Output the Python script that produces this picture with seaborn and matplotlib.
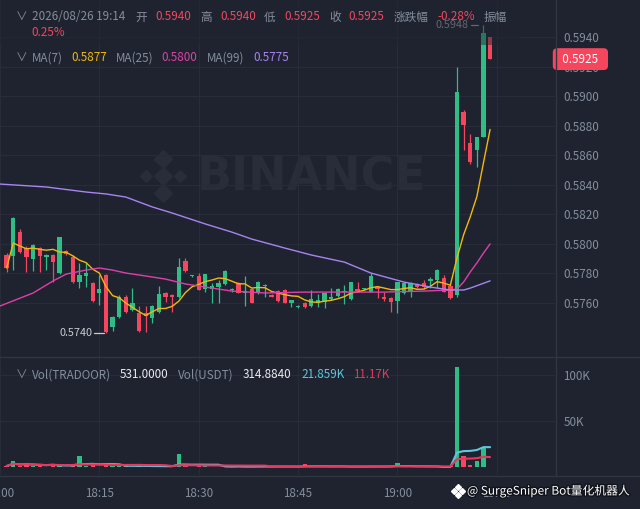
import numpy as np
import pandas as pd
import matplotlib
matplotlib.use('Agg')
import matplotlib.pyplot as plt
import matplotlib.transforms as mtransforms
import matplotlib.patheffects as pe
from matplotlib.patches import Rectangle
from matplotlib.lines import Line2D
import seaborn as sns

# 1-min Kerzen 18:01 - 19:14
times = pd.date_range('2026-08-26 18:01', '2026-08-26 19:14', freq='1min')

opens = [0.57925, 0.57918, 0.58080, 0.57972, 0.57898, 0.57972, 0.57911, 0.57925, 0.57803, 0.57952,
         0.57911, 0.57742, 0.57783, 0.57735, 0.57668, 0.57789, 0.57437, 0.57505, 0.57641, 0.57553,
         0.57532, 0.57532, 0.57498, 0.57539, 0.57668, 0.57654, 0.57641, 0.57884, 0.57783, 0.57783,
         0.57695, 0.57695, 0.57708, 0.57729, 0.57688, 0.57735, 0.57668, 0.57695, 0.57668, 0.57715,
         0.57654, 0.57681, 0.57688, 0.57600, 0.57573, 0.57600, 0.57580, 0.57600, 0.57607, 0.57627,
         0.57647, 0.57674, 0.57627, 0.57695, 0.57695, 0.57674, 0.57708, 0.57641, 0.57634, 0.57613,
         0.57668, 0.57674, 0.57729, 0.57735, 0.57749, 0.57756, 0.57769, 0.57715, 0.57654, 0.58892,
         0.58683, 0.58635, 0.58723, 0.59400]
highs = [0.57938, 0.58180, 0.58101, 0.57985, 0.58000, 0.57980, 0.57930, 0.57932, 0.58046, 0.57960,
         0.57925, 0.57871, 0.57877, 0.57745, 0.57789, 0.57795, 0.57512, 0.57654, 0.57654, 0.57701,
         0.57580, 0.57580, 0.57586, 0.57715, 0.57675, 0.57660, 0.57905, 0.57905, 0.57789, 0.57803,
         0.57796, 0.57735, 0.57756, 0.57823, 0.57701, 0.57745, 0.57783, 0.57701, 0.57749, 0.57729,
         0.57660, 0.57688, 0.57695, 0.57620, 0.57586, 0.57607, 0.57688, 0.57660, 0.57668, 0.57701,
         0.57701, 0.57722, 0.57742, 0.57742, 0.57705, 0.57803, 0.57715, 0.57675, 0.57641, 0.57742,
         0.57742, 0.57742, 0.57735, 0.57756, 0.57776, 0.57830, 0.57789, 0.57730, 0.59200, 0.58905,
         0.58744, 0.58723, 0.59480, 0.59400]
lows = [0.57810, 0.57823, 0.57938, 0.57810, 0.57817, 0.57810, 0.57823, 0.57742, 0.57796, 0.57925,
        0.57735, 0.57701, 0.57708, 0.57607, 0.57586, 0.57400, 0.57410, 0.57498, 0.57532, 0.57546,
        0.57404, 0.57404, 0.57465, 0.57532, 0.57607, 0.57539, 0.57634, 0.57810, 0.57776, 0.57688,
        0.57674, 0.57600, 0.57600, 0.57722, 0.57674, 0.57668, 0.57580, 0.57600, 0.57660, 0.57641,
        0.57641, 0.57607, 0.57600, 0.57573, 0.57566, 0.57566, 0.57573, 0.57573, 0.57566, 0.57620,
        0.57640, 0.57593, 0.57620, 0.57674, 0.57690, 0.57674, 0.57634, 0.57613, 0.57539, 0.57532,
        0.57660, 0.57640, 0.57701, 0.57695, 0.57701, 0.57701, 0.57674, 0.57627, 0.57641, 0.58635,
        0.58540, 0.58520, 0.58723, 0.59250]
closes = [0.57837, 0.58175, 0.57945, 0.57911, 0.57992, 0.57918, 0.57925, 0.57877, 0.58046, 0.57932,
          0.57742, 0.57789, 0.57803, 0.57613, 0.57695, 0.57404, 0.57505, 0.57641, 0.57539, 0.57600,
          0.57410, 0.57512, 0.57580, 0.57661, 0.57641, 0.57641, 0.57844, 0.57817, 0.57789, 0.57688,
          0.57796, 0.57715, 0.57735, 0.57817, 0.57695, 0.57668, 0.57681, 0.57600, 0.57742, 0.57722,
          0.57641, 0.57613, 0.57600, 0.57620, 0.57580, 0.57573, 0.57627, 0.57620, 0.57668, 0.57641,
          0.57695, 0.57681, 0.57742, 0.57681, 0.57701, 0.57783, 0.57695, 0.57627, 0.57607, 0.57742,
          0.57735, 0.57735, 0.57708, 0.57708, 0.57762, 0.57823, 0.57674, 0.57634, 0.59028, 0.58804,
          0.58554, 0.58723, 0.59427, 0.59250]
volumes = [1500, 6500, 1800, 4300, 1500, 1200, 900, 4000, 2000, 1000,
           4200, 12000, 1200, 2500, 1000, 3000, 2000, 1500, 1300, 1000,
           2000, 1500, 1200, 1500, 1000, 800, 14000, 1800, 500, 1500,
           1200, 800, 700, 1200, 500, 1500, 600, 1000, 1300, 800,
           600, 1200, 1200, 800, 400, 3300, 1000, 700, 1000, 600,
           900, 500, 1500, 1200, 300, 1800, 800, 700, 1300, 4700,
           500, 400, 400, 500, 250, 800, 500, 1200, 108000, 11900,
           2200, 6800, 22400, 531]

ma25_idx = [-1, 4, 7, 9, 12, 14, 16, 18, 21, 24, 27, 30, 34, 39, 45, 51, 57, 63, 67, 68, 69, 70, 71, 72, 73]
ma25_vals = [0.57580, 0.57668, 0.57749, 0.57796, 0.57823, 0.57837, 0.57823, 0.57803, 0.57783, 0.57762,
             0.57729, 0.57708, 0.57681, 0.57668, 0.57674, 0.57674, 0.57674, 0.57681, 0.57688, 0.57695,
             0.57742, 0.57810, 0.57871, 0.57938, 0.58000]
ma99_idx = [-1, 6, 12, 15, 18, 22, 25, 30, 34, 37, 42, 46, 51, 55, 60, 64, 67, 69, 70, 73]
ma99_vals = [0.58405, 0.58385, 0.58351, 0.58338, 0.58317, 0.58250, 0.58209, 0.58135, 0.58080, 0.58033,
             0.57972, 0.57925, 0.57877, 0.57803, 0.57742, 0.57708, 0.57688, 0.57688, 0.57701, 0.57750]

time_ticks = ['18:00', '18:15', '18:30', '18:45', '19:00', '19:15']
price_ticks = [0.5760, 0.5780, 0.5800, 0.5820, 0.5840, 0.5860, 0.5880, 0.5900, 0.5920, 0.5940]
vol_ticks = [50000, 100000]
vol_tick_labels = ['50K', '100K']

BG = '#1f2330'
GRID = '#272c38'
SEP = '#30353f'
GREY = '#848e9c'
WHITE = '#eaecef'
RED = '#f6465d'
GREEN = '#2ebd85'
YELLOW = '#f0b90b'
PINK = '#e03fa8'
PURPLE = '#a883f2'
CYAN = '#5cc8dc'
VRED = '#e8365d'
MARK = '#282d39'
FS = 8.4
W, H = 640, 509

sns.set_style('dark', {'axes.facecolor': BG, 'figure.facecolor': BG, 'axes.edgecolor': BG,
                       'grid.color': GRID, 'axes.grid': True})
plt.rcParams['font.family'] = ['Noto Sans CJK SC', 'DejaVu Sans']

df = pd.DataFrame({'time': times, 'open': opens, 'high': highs, 'low': lows,
                   'close': closes, 'volume': volumes})
df['pos'] = np.arange(len(df))
df['ma7'] = df['close'].rolling(7, min_periods=1).mean()
df['vma7'] = df['volume'].rolling(7, min_periods=1).mean()
df['vma14'] = df['volume'].rolling(14, min_periods=1).mean()
up = df['close'] >= df['open']
colors = np.where(up, GREEN, RED)

start = pd.Timestamp('2026-08-26 18:01')
tick_pos = [(pd.Timestamp('2026-08-26 ' + t) - start) / pd.Timedelta('1min') for t in time_ticks]


def px(x, y):
    return x / W, 1 - y / H


fig = plt.figure(figsize=(6.4, 5.09), dpi=100, facecolor=BG)
ax = fig.add_axes([0, 152 / H, 555 / W, 357 / H])
axv = fig.add_axes([0, 34 / H, 555 / W, 118 / H], sharex=ax)

# Wasserzeichen
ax.text(*px(312, 178), 'BINANCE', transform=fig.transFigure, fontsize=33, fontweight='bold',
        color=MARK, ha='center', va='center', family='DejaVu Sans', zorder=0)
for dx, dy, ms in [(0, 0, 9), (-17, 0, 6), (17, 0, 6), (0, -17, 9), (0, 17, 9)]:
    ax.plot(*px(163 + dx, 176 + dy), marker='D', ms=ms, color=MARK,
            transform=fig.transFigure, zorder=0)

# Kerzen
ax.vlines(df['pos'], df['low'], df['high'], colors=colors, lw=0.9, zorder=2)
body_lo = np.minimum(df['open'], df['close'])
body_h = np.maximum((df['close'] - df['open']).abs(), 0.00007)
ax.bar(df['pos'], body_h, bottom=body_lo, width=0.65, color=colors, linewidth=0, zorder=3)

sns.lineplot(data=df, x='pos', y='ma7', color=YELLOW, lw=1.0, ax=ax, zorder=4)
sns.lineplot(x=ma25_idx, y=ma25_vals, color=PINK, lw=1.0, ax=ax, zorder=4)
sns.lineplot(x=ma99_idx, y=ma99_vals, color=PURPLE, lw=1.0, ax=ax, zorder=4)

# Volumen
axv.bar(df['pos'], df['volume'], width=0.65, color=colors, linewidth=0, zorder=2)
sns.lineplot(data=df, x='pos', y='vma7', color=CYAN, lw=1.5, ax=axv, zorder=3)
sns.lineplot(data=df, x='pos', y='vma14', color=VRED, lw=1.5, ax=axv, zorder=3)

ax.set_xlim(-0.405, 82.8)
ax.set_ylim(0.57235, 0.59650)
axv.set_ylim(-8150, 119000)

for a in (ax, axv):
    a.set_xlabel('')
    a.set_ylabel('')
    for s in a.spines.values():
        s.set_visible(False)
    a.yaxis.tick_right()
    a.grid(True, color=GRID, lw=0.8)
    a.tick_params(length=0, colors=GREY, labelsize=FS)
    a.tick_params(axis='y', pad=6)

ax.set_xticks(tick_pos)
ax.tick_params(labelbottom=False)
axv.set_xticklabels(time_ticks)
axv.tick_params(axis='x', pad=8.6)
ax.set_yticks(price_ticks)
ax.set_yticklabels([f'{p:.4f}' for p in price_ticks])
axv.set_yticks(vol_ticks)
axv.set_yticklabels(vol_tick_labels)

# letzter Kurs
blend = mtransforms.blended_transform_factory(ax.transAxes, ax.transData)
ax.text(1.004, closes[-1], f'  {closes[-1]:.4f}  ', transform=blend, ha='left', va='center',
        color='white', fontsize=FS, clip_on=False, zorder=10,
        bbox=dict(boxstyle='round,pad=0.38', fc=RED, ec='none'))

# Hoch / Tief Markierung
hi_i = int(np.argmax(highs))
lo_i = int(np.argmin(lows))
ax.plot([hi_i - 1.95, hi_i - 0.8], [highs[hi_i]] * 2, color='#9aa0a8', lw=0.9, zorder=5)
ax.text(hi_i - 2.2, highs[hi_i], f'{highs[hi_i]:.4f}', color='#9aa0a8', fontsize=7.8,
        ha='right', va='center', zorder=5)
ax.plot([lo_i - 1.75, lo_i - 0.3], [lows[lo_i]] * 2, color='#c8ccd2', lw=0.9, zorder=5)
ax.text(lo_i - 2.1, lows[lo_i], f'{lows[lo_i]:.4f}', color='#c8ccd2', fontsize=7.8,
        ha='right', va='center', zorder=5)

# Kopfzeilen-Hintergrund
fig.patches.append(Rectangle(px(0, 45), 520 / W, 45 / H, transform=fig.transFigure,
                             fc=BG, ec='none', alpha=0.45, zorder=1))

# Trennlinien
fig.add_artist(Line2D([0, 1], [1 - 357 / H] * 2, color=SEP, lw=1, transform=fig.transFigure))
fig.add_artist(Line2D([0, 1], [1 - 475.5 / H] * 2, color=SEP, lw=1, transform=fig.transFigure))
fig.add_artist(Line2D([555.5 / W] * 2, [1 - 475.5 / H, 1], color=SEP, lw=1, transform=fig.transFigure))

header = [
    (17, [('∨', 16, GREY), ('2026/08/26 19:14', 32, GREY), ('开', 135, GREY), ('0.5940', 155, RED),
          ('高', 200, GREY), ('0.5940', 220, RED), ('低', 264, GREY), ('0.5925', 284, RED),
          ('收', 329, GREY), ('0.5925', 348, RED), ('涨跌幅', 394, GREY), ('-0.28%', 437, RED),
          ('振幅', 484, GREY)]),
    (33, [('0.25%', 31, RED)]),
    (58, [('∨', 16, GREY), ('MA(7)', 32, GREY), ('0.5877', 71, YELLOW), ('MA(25)', 116, GREY),
          ('0.5800', 161, PINK), ('MA(99)', 207, GREY), ('0.5775', 253, PURPLE)]),
    (375, [('∨', 16, GREY), ('Vol(TRADOOR)', 32, GREY), ('531.0000', 120, WHITE),
           ('Vol(USDT)', 178, GREY), ('314.8840', 243, WHITE), ('21.859K', 301, CYAN),
           ('11.17K', 353, VRED)]),
]
for y, parts in header:
    for s, x, c in parts:
        fig.text(*px(x, y), s, color=c, fontsize=FS, ha='left', va='center', zorder=5)

# Quellen-Wasserzeichen unten rechts
shadow = [pe.withStroke(linewidth=2, foreground='#10131a')]
for dx, dy in [(0, -4), (-4, 0), (4, 0), (0, 4)]:
    fig.add_artist(Line2D([px(458 + dx, 0)[0]], [px(0, 491 + dy)[1]], marker='D', ms=3,
                          color='white', transform=fig.transFigure, zorder=6))
fig.text(*px(467, 491), '@ SurgeSniper Bot量化机器人', color='white', fontsize=8.5,
         ha='left', va='center', path_effects=shadow, zorder=6)

fig.savefig('out.png', dpi=100, facecolor=BG)
